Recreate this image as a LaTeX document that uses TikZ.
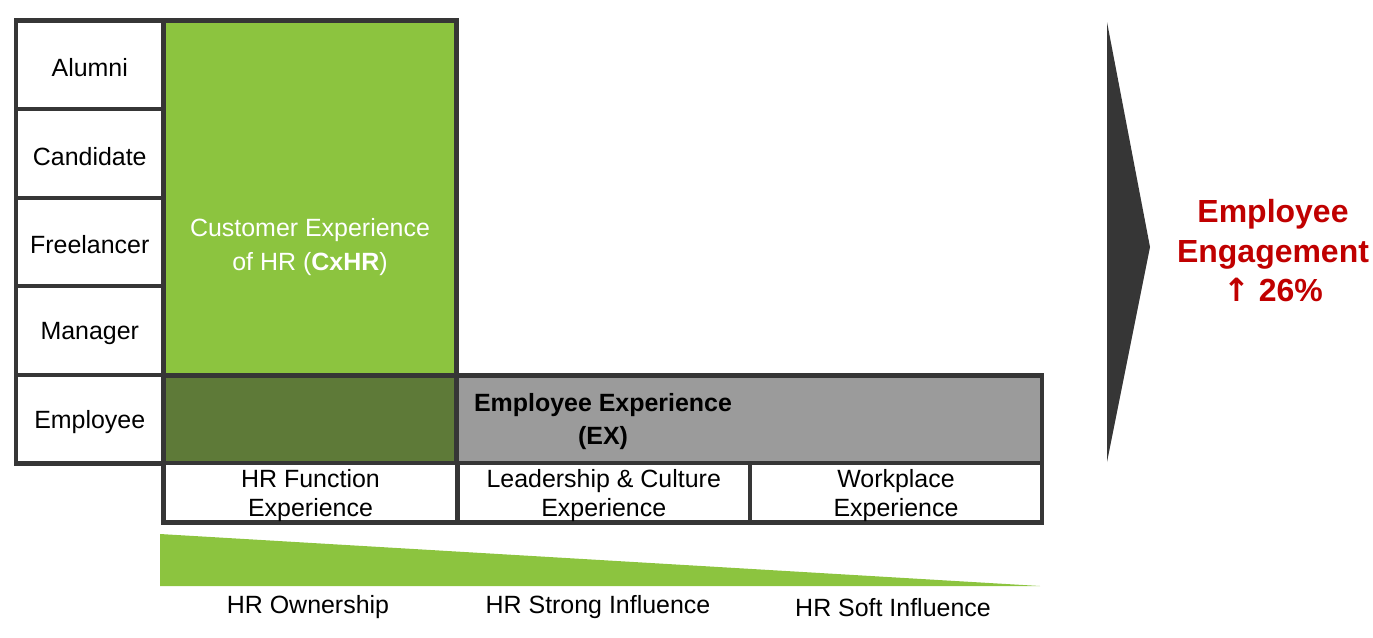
\documentclass[tikz,border=0pt]{standalone}
\usepackage{fontspec}
\setmainfont{Liberation Sans}
\newfontfamily\arrowfont{DejaVu Sans}
\usepackage{tikz}
\definecolor{frame}{HTML}{363636}
\definecolor{hrgreen}{HTML}{8CC43F}
\definecolor{hrdark}{HTML}{5E7A38}
\definecolor{exgray}{HTML}{9B9B9B}
\definecolor{engred}{HTML}{C00000}
\tikzstyle{txt} = [font=\fontsize{14.2}{17}\selectfont, align=center, inner sep=0pt]
\tikzset{cell/.style={draw=frame, line width=2.4pt, inner sep=0pt},
    cell text/.style={label={[txt, yshift=-0.055cm]center:#1}},
    scale label/.style={txt, anchor=center}}

\begin{document}
\begin{tikzpicture}[x=0.02cm, y=-0.02cm]
    \useasboundingbox (0,0) rectangle (1373,637);
    % Definition of the unit
    \def\px{0.02cm}
    %
    \node[cell, fill=hrgreen, minimum width=293*\px, minimum height=355*\px] (cxhr) at (310,198) {};
    \node[cell, fill=hrdark, minimum width=293*\px, minimum height=87.5*\px] (hrcore) at (310,419.25) {};
    \node[cell, fill=exgray, minimum width=585.5*\px, minimum height=87.5*\px] (ex) at (749.25,419.25) {};
    \node[txt, text=white, font=\fontsize{14.2}{19.2}\selectfont] (cxhrtext) at (310,247) {Customer Experience\\of HR (\textbf{CxHR})};
    \node[txt, font=\fontsize{14.2}{18.8}\bfseries] (extext) at (603,422) {Employee Experience\\(EX)};
    % bottom row
    \node[cell, fill=white, minimum width=294*\px, minimum height=59.5*\px, cell text={HR Function\\Experience}] (hrfunc) at (310.5,492.75) {};
    \node[cell, fill=white, minimum width=292.5*\px, minimum height=59.5*\px, cell text={Leadership \& Culture\\Experience}] (leader) at (603.75,492.75) {};
    \node[cell, fill=white, minimum width=292*\px, minimum height=59.5*\px, cell text={Workplace\\Experience}] (workplace) at (896,492.75) {};
    % left column
    \foreach \name/\label [count=\i] in {alumni/Alumni, candidate/Candidate, freelancer/Freelancer, manager/Manager, employee/Employee}
        \node[cell, fill=white, minimum width=147.5*\px, minimum height=88.6*\px, cell text=\label] (\name) at (89.75,{20.5+88.6*\i-44.3}) {};
    % influence wedge
    \fill[hrgreen] (160,534) -- (1040,586) -- (160,586) -- cycle;
    \node[scale label] (own) at (308,607.5) {HR Ownership};
    \node[scale label] (strong) at (598,607.5) {HR Strong Influence};
    \node[scale label] (soft) at (893,607.5) {HR Soft Influence};
    % chevron and result
    \fill[frame] (1107,22) -- (1150,247) -- (1107,462) -- cycle;
    \node[txt, text=engred, font=\fontsize{18.2}{22.5}\bfseries] (engage) at (1273,251) {Employee\\Engagement\\{\arrowfont ↑} 26\%};
\end{tikzpicture}
\end{document}
